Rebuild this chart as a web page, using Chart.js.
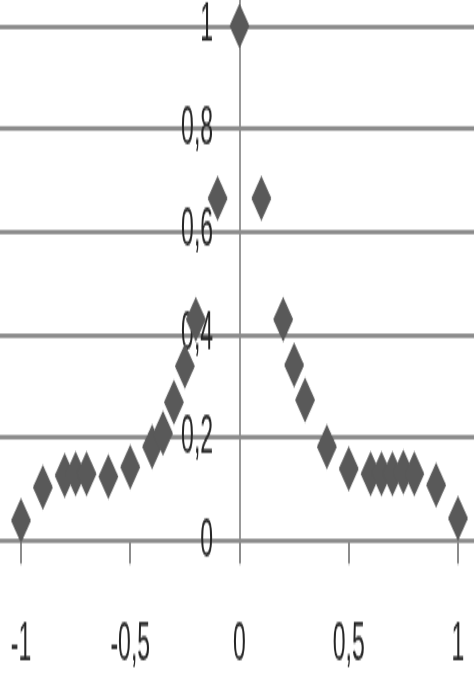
<!DOCTYPE html>
<html>
<head>
<meta charset="utf-8">
<script src="https://cdn.jsdelivr.net/npm/chart.js@4"></script>
<style>
    html, body { margin: 0; padding: 0; background: #fff; overflow: hidden; }
    body { width: 474px; height: 676px; }
    /* the original picture is stretched vertically, so draw flat and stretch */
    #wrap {
        width: 474px;
        height: 324px;
        transform: scaleY(2.2533);
        transform-origin: 0 0;
    }
</style>
</head>
<body>
<div id="wrap"><canvas id="chart"></canvas></div>
<script>
// Data
const xValues = [-1, -0.9, -0.8, -0.75, -0.7, -0.6, -0.5, -0.4, -0.35, -0.3, -0.25, -0.2, -0.1, 0,
                 0.1, 0.2, 0.25, 0.3, 0.4, 0.5, 0.6, 0.65, 0.7, 0.75, 0.8, 0.9, 1];
const yValues = [0.04, 0.105, 0.128, 0.131, 0.131, 0.125, 0.144, 0.183, 0.21, 0.27, 0.34, 0.43, 0.665, 1,
                 0.665, 0.43, 0.342, 0.274, 0.183, 0.141, 0.131, 0.131, 0.131, 0.134, 0.131, 0.109, 0.044];

const xTicks = [-1, -0.5, 0, 0.5, 1];
const xTickLabels = ['-1', '-0,5', '0', '0,5', '1'];
const yTicks = [0, 0.2, 0.4, 0.6, 0.8, 1];
const yTickLabels = ['0', '0,2', '0,4', '0,6', '0,8', '1'];

const gridGrey = '#8c8c8c';
const axisGrey = '#999999';
const markerGrey = '#595959';
const textColor = '#262626';
const fontFamily = "'Liberation Sans', Arial, sans-serif";

document.addEventListener('DOMContentLoaded', function() {
    const points = xValues.map((x, i) => ({ x: x, y: yValues[i] }));

    new Chart(document.getElementById('chart'), {
        type: 'scatter',
        data: {
            datasets: [{
                data: points,
                pointStyle: 'rectRot',
                pointRadius: 10,
                pointHoverRadius: 10,
                backgroundColor: markerGrey,
                borderColor: markerGrey,
                borderWidth: 0,
                clip: false
            }]
        },
        options: {
            responsive: true,
            maintainAspectRatio: false,
            animation: false,
            events: [],
            layout: { padding: 0, autoPadding: false },
            plugins: {
                legend: { display: false },
                tooltip: { enabled: false }
            },
            scales: {
                x: {
                    type: 'linear',
                    position: 'bottom',
                    min: -1.0961,
                    max: 1.0732,
                    afterBuildTicks: axis => { axis.ticks = xTicks.map(v => ({ value: v })); },
                    grid: {
                        // only the line at x = 0 is shown (the vertical axis line)
                        drawOnChartArea: true,
                        drawTicks: true,
                        tickLength: 10,
                        color: ctx => (ctx.tick && ctx.tick.value === 0) ? axisGrey : 'rgba(0,0,0,0)',
                        tickColor: gridGrey,
                        lineWidth: 2
                    },
                    border: { display: true, color: gridGrey, width: 2 },
                    ticks: {
                        autoSkip: false,
                        maxRotation: 0,
                        padding: 0,
                        color: textColor,
                        font: { family: fontFamily, size: 23, lineHeight: 3.21 },
                        callback: (v, i) => xTickLabels[i]
                    }
                },
                y: {
                    type: 'linear',
                    // anchor the labels a little left of x = 0, like the original
                    position: { x: -0.121 },
                    min: 0,
                    max: 1.0503,
                    afterBuildTicks: axis => { axis.ticks = yTicks.map(v => ({ value: v })); },
                    grid: {
                        drawTicks: false,
                        color: gridGrey,
                        lineWidth: 2
                    },
                    border: { display: false },
                    ticks: {
                        padding: 0,
                        color: textColor,
                        font: { family: fontFamily, size: 23, lineHeight: 0 },
                        callback: (v, i) => yTickLabels[i]
                    }
                }
            }
        }
    });
});
</script>
</body>
</html>
